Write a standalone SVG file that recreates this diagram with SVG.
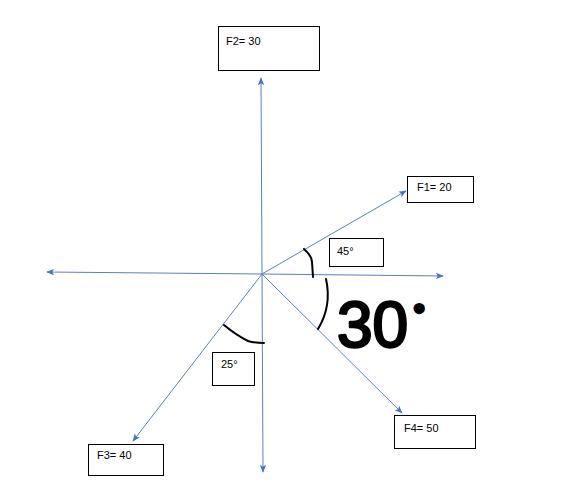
<svg xmlns="http://www.w3.org/2000/svg" width="587" height="498" viewBox="0 0 587 498">
<defs>
<marker id="ah" viewBox="0 0 10 10" refX="9" refY="5" markerWidth="8" markerHeight="8" markerUnits="userSpaceOnUse" orient="auto">
<path d="M0,1 L10,5 L0,9 L2.5,5 Z" fill="#4472C4"/>
</marker>
<style>
.ax{stroke:#5B7FBF;stroke-width:1;fill:none;marker-end:url(#ah)}
.box{fill:#fff;stroke:#000;stroke-width:1}
.lbl{font-family:"Liberation Sans",Arial,sans-serif;font-size:11px;fill:#000}
.arc{stroke:#000;stroke-width:2;fill:none;stroke-linecap:round}
</style>
</defs>
<rect width="587" height="498" fill="#fff"/>
<g id="connectors">
<line class="ax" x1="262" y1="274" x2="261" y2="78"/>
<line class="ax" x1="262" y1="274" x2="263" y2="472"/>
<line class="ax" x1="262" y1="274" x2="47" y2="272"/>
<line class="ax" x1="262" y1="274" x2="443" y2="276"/>
<line class="ax" x1="262" y1="274" x2="406" y2="191"/>
<line class="ax" x1="262" y1="274" x2="133" y2="441"/>
<line class="ax" x1="262" y1="274" x2="402" y2="413"/>
</g>
<g id="angle-arcs">
<path class="arc" d="M304,249 Q312,256 312,262 L313,277"/>
<path class="arc" d="M326,279 Q332,306 318,329"/>
<path class="arc" d="M224,325 Q236,335 248,341 Q254,343 264,343"/>
</g>
<g id="F2"><rect class="box" x="218.5" y="26.5" width="101" height="44"/><text class="lbl" x="226" y="45">F2= 30</text></g>
<g id="F1"><rect class="box" x="407.5" y="176.5" width="66" height="26"/><text class="lbl" x="417" y="191">F1= 20</text></g>
<g id="a45"><rect class="box" x="329.5" y="238.5" width="54" height="28"/><text class="lbl" x="337" y="255">45°</text></g>
<g id="a25"><rect class="box" x="212.5" y="352.5" width="42" height="33"/><text class="lbl" x="221" y="368">25°</text></g>
<g id="F3"><rect class="box" x="88.5" y="444.5" width="75" height="31"/><text class="lbl" x="97" y="459">F3= 40</text></g>
<g id="F4"><rect class="box" x="394.5" y="415.5" width="81" height="33"/><text class="lbl" x="404" y="432">F4= 50</text></g>
<g id="a30"><text x="337" y="347" font-family="Liberation Sans,Arial,sans-serif" font-size="64" fill="#000" stroke="#000" stroke-width="2.5" stroke-linejoin="round">30<tspan x="414" y="323" font-size="26" stroke-width="4">°</tspan></text></g>
</svg>
